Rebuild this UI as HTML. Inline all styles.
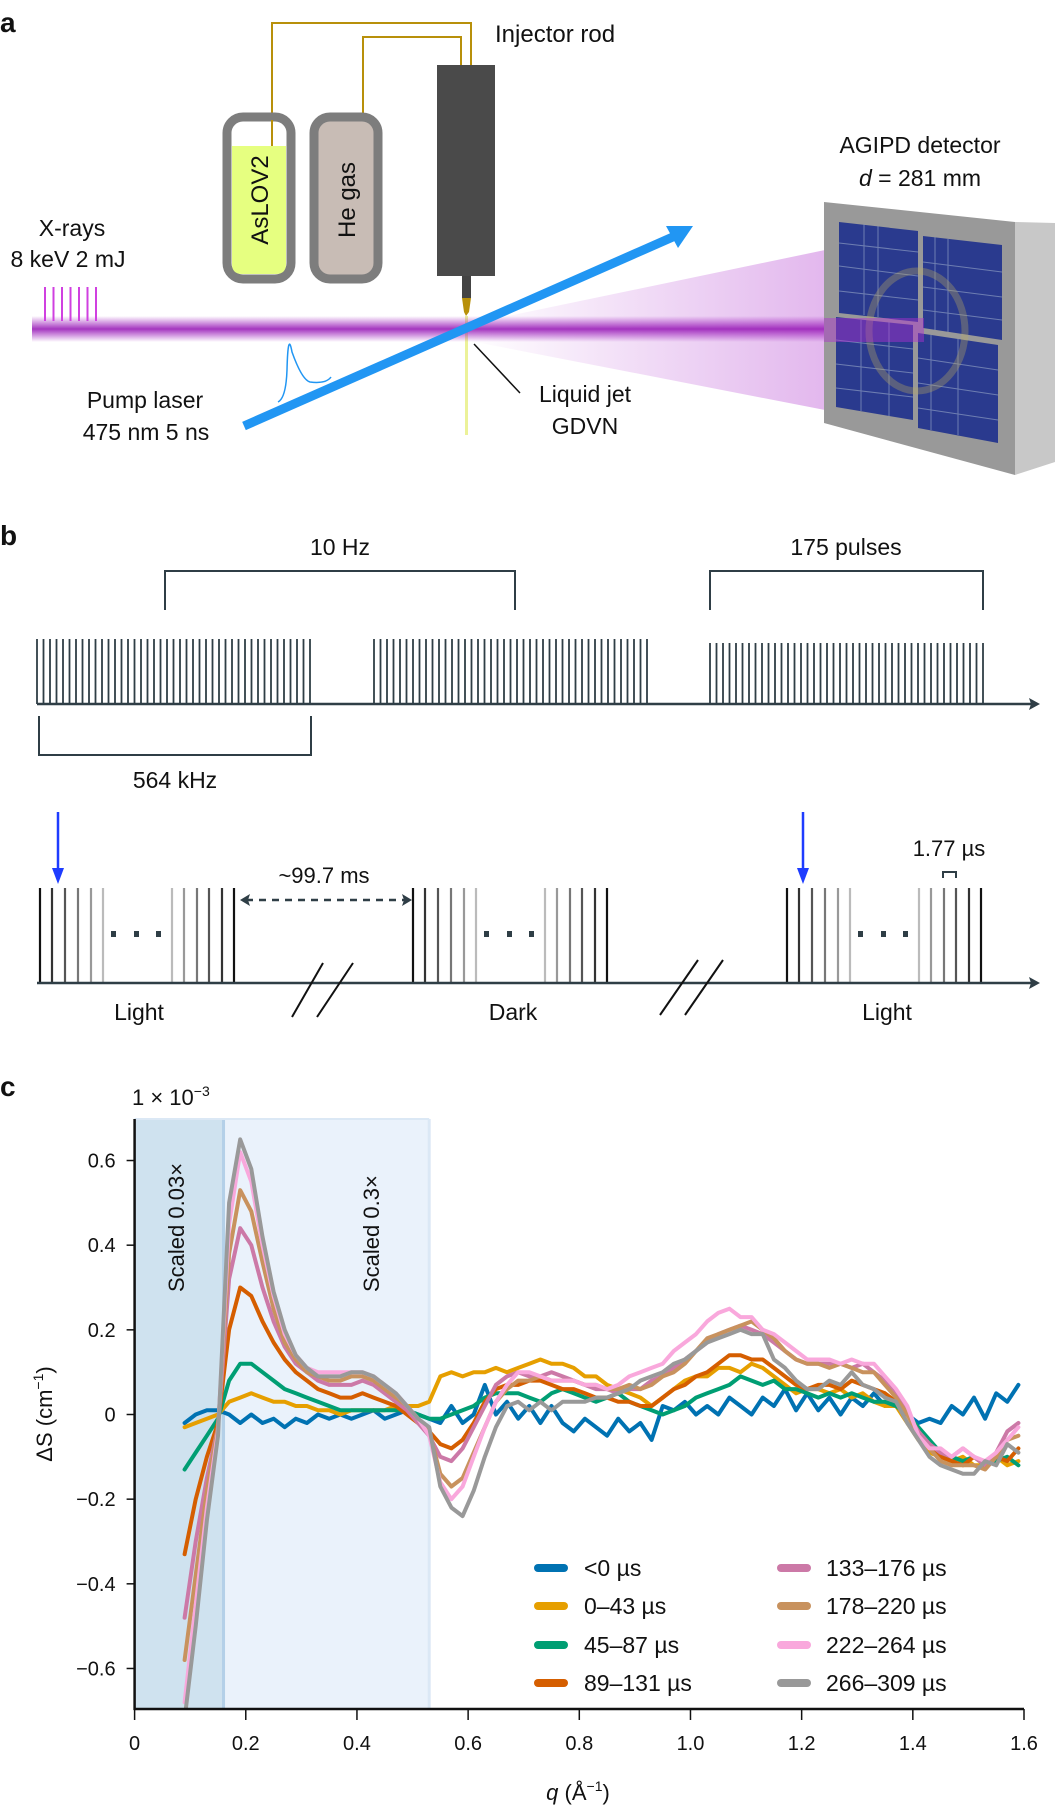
<!DOCTYPE html>
<html><head><meta charset="utf-8"><style>
html,body{margin:0;padding:0;background:#fff}
svg{display:block}
text{font-family:"Liberation Sans",sans-serif;fill:#111}
</style></head><body>
<svg id="fig" width="1055" height="1807" viewBox="0 0 1055 1807" xmlns="http://www.w3.org/2000/svg">
<defs>
<linearGradient id="beamV" x1="0" y1="0" x2="0" y2="1">
<stop offset="0" stop-color="#a020c0" stop-opacity="0"/><stop offset="0.5" stop-color="#9a20b8" stop-opacity="0.9"/><stop offset="1" stop-color="#a020c0" stop-opacity="0"/></linearGradient>
<linearGradient id="coneH" x1="0" y1="0" x2="1" y2="0">
<stop offset="0" stop-color="#c060d8" stop-opacity="0"/><stop offset="1" stop-color="#c060d8" stop-opacity="0.45"/></linearGradient>
<clipPath id="plotClip"><rect x="134.6" y="1119" width="890" height="590"/></clipPath>
</defs>

<!-- PANEL A -->
<g>
<text x="0" y="32" font-size="28" font-weight="bold">a</text>
<polyline points="272,145 272,23 471,23 471,65" fill="none" stroke="#b8900a" stroke-width="2"/>
<polyline points="363,113 363,37 461,37 461,87" fill="none" stroke="#b8900a" stroke-width="2"/>
<rect x="227" y="117" width="64" height="162" rx="16" fill="#fff" stroke="#7d7d7d" stroke-width="9"/>
<path d="M232,146 H286 V264 Q286,274 276,274 H242 Q232,274 232,264 Z" fill="#e6ff80"/>
<line x1="272" y1="120" x2="272" y2="146" stroke="#b8900a" stroke-width="2"/>
<text transform="translate(268,200) rotate(-90)" font-size="24" text-anchor="middle">AsLOV2</text>
<rect x="314" y="117" width="64" height="162" rx="16" fill="#c8bcb5" stroke="#7d7d7d" stroke-width="9"/>
<text transform="translate(355,200) rotate(-90)" font-size="24" text-anchor="middle">He gas</text>
<rect x="437" y="65" width="58" height="211" fill="#4a4a4a"/>
<rect x="462" y="276" width="9" height="22" fill="#444"/>
<path d="M462,298 H471 L469,312 L466,316 L464,312 Z" fill="#b8900a"/>
<line x1="466.5" y1="316" x2="466.5" y2="435" stroke="#e8f080" stroke-width="3" opacity="0.8"/>
<text x="495" y="42" font-size="24">Injector rod</text>
<polygon points="465,325 825,250 825,410 465,340" fill="url(#coneH)"/>
<rect x="32" y="316" width="800" height="26" fill="url(#beamV)"/>
<g stroke="#d040e0" stroke-width="2">
<line x1="45" y1="287" x2="45" y2="321"/><line x1="53.5" y1="287" x2="53.5" y2="321"/><line x1="62" y1="287" x2="62" y2="321"/><line x1="70.5" y1="287" x2="70.5" y2="321"/><line x1="79" y1="287" x2="79" y2="321"/><line x1="87.5" y1="287" x2="87.5" y2="321"/><line x1="96" y1="287" x2="96" y2="321"/></g>
<text x="72" y="236" font-size="23" text-anchor="middle">X-rays</text>
<text x="68" y="267" font-size="23" text-anchor="middle">8 keV 2 mJ</text>
<line x1="244" y1="426" x2="675" y2="236" stroke="#2196f3" stroke-width="9"/>
<polygon points="693,226 666,226 678,248" fill="#2196f3"/>
<path d="M278,402 Q286,398 287,370 Q288,330 292,352 Q302,380 310,382 Q326,384 331,377" fill="none" stroke="#2196f3" stroke-width="1.5"/>
<text x="145" y="408" font-size="23" text-anchor="middle">Pump laser</text>
<text x="146" y="440" font-size="23" text-anchor="middle">475 nm 5 ns</text>
<line x1="474" y1="344" x2="520" y2="393" stroke="#111" stroke-width="1.5"/>
<text x="585" y="402" font-size="23" text-anchor="middle">Liquid jet</text>
<text x="585" y="434" font-size="23" text-anchor="middle">GDVN</text>
<text x="920" y="153" font-size="23" text-anchor="middle">AGIPD detector</text>
<text x="920" y="186" font-size="23" text-anchor="middle"><tspan font-style="italic">d</tspan> = 281 mm</text>
<g>
<polygon points="1015,222 1055,223 1055,462 1015,475" fill="#c8c8c8"/>
<polygon points="824,202 1015,222 1015,475 824,423" fill="#999"/>
<polygon points="839,222 918,231 918,322 839,313" fill="#2a3a8e"/>
<polygon points="923,236 1002,245 1002,340 923,328" fill="#2a3a8e"/>
<polygon points="836,317 913,325 913,420 836,407" fill="#2a3a8e"/>
<polygon points="918,333 998,345 998,443 918,428" fill="#2a3a8e"/>
<g stroke="#8a9ac0" stroke-width="1" opacity="0.7">
<line x1="839" y1="243" x2="918" y2="252"/><line x1="839" y1="266" x2="918" y2="276"/><line x1="839" y1="291" x2="918" y2="300"/>
<line x1="923" y1="262" x2="1002" y2="272"/><line x1="923" y1="287" x2="1002" y2="297"/><line x1="923" y1="310" x2="1002" y2="320"/>
<line x1="836" y1="340" x2="913" y2="349"/><line x1="836" y1="364" x2="913" y2="373"/><line x1="836" y1="388" x2="913" y2="397"/>
<line x1="918" y1="358" x2="998" y2="370"/><line x1="918" y1="383" x2="998" y2="395"/><line x1="918" y1="408" x2="998" y2="420"/>
<line x1="864" y1="224" x2="864" y2="315"/><line x1="878" y1="226" x2="878" y2="317"/><line x1="935" y1="237" x2="935" y2="330"/><line x1="948" y1="239" x2="948" y2="332"/>
<line x1="861" y1="320" x2="861" y2="411"/><line x1="889" y1="322" x2="889" y2="416"/><line x1="931" y1="335" x2="931" y2="430"/><line x1="958" y1="339" x2="958" y2="435"/></g>
<ellipse cx="917" cy="331" rx="48" ry="60" fill="none" stroke="#b8a860" stroke-width="7" opacity="0.35"/>
<rect x="824" y="318" width="100" height="24" fill="#b030d0" opacity="0.45"/>
</g>
</g>

<!-- PANEL B -->
<g stroke="#2f3e46">
<text x="0" y="545" font-size="28" font-weight="bold" stroke="none">b</text>
<text x="340" y="555" font-size="23" text-anchor="middle" stroke="none">10 Hz</text>
<polyline points="165,610 165,571 515,571 515,610" fill="none" stroke-width="2"/>
<text x="846" y="555" font-size="23" text-anchor="middle" stroke="none">175 pulses</text>
<polyline points="710,610 710,571 983,571 983,610" fill="none" stroke-width="2"/>
<g id="trains" stroke-width="1.8"></g>
<line x1="37" y1="704" x2="1033" y2="704" stroke-width="2.5"/>
<polygon points="1040,704 1029,698 1031,704 1029,710" fill="#2f3e46" stroke="none"/>
<polyline points="39,716 39,755 311,755 311,716" fill="none" stroke-width="2"/>
<text x="175" y="788" font-size="23" text-anchor="middle" stroke="none">564 kHz</text>
<g stroke="#1e3cff" stroke-width="2.5">
<line x1="58" y1="812" x2="58" y2="875"/><line x1="803" y1="812" x2="803" y2="875"/></g>
<polygon points="52,868 64,868 58,884" fill="#1e3cff" stroke="none"/>
<polygon points="797,868 809,868 803,884" fill="#1e3cff" stroke="none"/>
<g id="lowtrains" stroke-width="2.2"></g>
<line x1="37" y1="983" x2="1033" y2="983" stroke-width="2.5"/>
<polygon points="1040,983 1029,977 1031,983 1029,989" fill="#2f3e46" stroke="none"/>
<line x1="246" y1="900" x2="406" y2="900" stroke-width="2.5" stroke-dasharray="7,6"/>
<polygon points="240,900 250,894 248,900 250,906" fill="#2f3e46" stroke="none"/>
<polygon points="412,900 402,894 404,900 402,906" fill="#2f3e46" stroke="none"/>
<text x="324" y="883" font-size="22" text-anchor="middle" stroke="none">~99.7 ms</text>
<g fill="#2f3e46" stroke="none">
<rect x="111" y="931" width="5" height="6"/><rect x="134" y="931" width="5" height="6"/><rect x="156" y="931" width="5" height="6"/>
<rect x="484" y="931" width="5" height="6"/><rect x="507" y="931" width="5" height="6"/><rect x="529" y="931" width="5" height="6"/>
<rect x="858" y="931" width="5" height="6"/><rect x="881" y="931" width="5" height="6"/><rect x="903" y="931" width="5" height="6"/></g>
<g stroke="#111" stroke-width="2">
<line x1="292" y1="1017" x2="323" y2="963"/><line x1="317" y1="1017" x2="353" y2="963"/>
<line x1="660" y1="1015" x2="698" y2="960"/><line x1="685" y1="1015" x2="723" y2="960"/></g>
<polyline points="943,878 943,872 956,872 956,878" fill="none" stroke-width="2"/>
<text x="949" y="856" font-size="22" text-anchor="middle" stroke="none">1.77 µs</text>
<text x="139" y="1020" font-size="23" text-anchor="middle" stroke="none">Light</text>
<text x="513" y="1020" font-size="23" text-anchor="middle" stroke="none">Dark</text>
<text x="887" y="1020" font-size="23" text-anchor="middle" stroke="none">Light</text>
</g>

<!-- PANEL C -->
<g>
<text x="0" y="1096" font-size="28" font-weight="bold">c</text>
<text x="132" y="1105" font-size="22">1 × 10<tspan font-size="14" dy="-9">−3</tspan></text>
<g id="chart"></g>
</g>
</svg>
<script>
(function(){
  var ns='http://www.w3.org/2000/svg';
  var g=document.getElementById('trains');
  var blocks=[[37,310,639],[374,647,639],[710,983,643]];
  blocks.forEach(function(b){
    for(var x=b[0];x<=b[1]+0.1;x+=(b[1]-b[0])/42){
      var l=document.createElementNS(ns,'line');
      l.setAttribute('x1',x);l.setAttribute('x2',x);l.setAttribute('y1',b[2]);l.setAttribute('y2',704);
      g.appendChild(l);
    }
  });
  var lg=document.getElementById('lowtrains');
  var shadesL=['#111','#333','#555','#777','#999','#bbb'];
  var offsA=[0,12,25,38,51,63], offsB=[0,12,25,37,50,62];
  [[40,172],[413,545],[787,919]].forEach(function(b){
    for(var i=0;i<6;i++){
      var l=document.createElementNS(ns,'line');
      var x=b[0]+offsA[i];
      l.setAttribute('x1',x);l.setAttribute('x2',x);l.setAttribute('y1',888);l.setAttribute('y2',983);
      l.setAttribute('stroke',shadesL[i]);lg.appendChild(l);
      var l2=document.createElementNS(ns,'line');
      var x2=b[1]+offsB[i];
      l2.setAttribute('x1',x2);l2.setAttribute('x2',x2);l2.setAttribute('y1',888);l2.setAttribute('y2',983);
      l2.setAttribute('stroke',shadesL[5-i]);lg.appendChild(l2);
    }
  });
})();
</script>
<script>
const qValues=[0.09,0.11,0.13,0.15,0.17,0.19,0.21,0.23,0.25,0.27,0.29,0.31,0.33,0.35,0.37,0.39,0.41,0.43,0.45,0.47,0.49,0.51,0.53,0.55,0.57,0.59,0.61,0.63,0.65,0.67,0.69,0.71,0.73,0.75,0.77,0.79,0.81,0.83,0.85,0.87,0.89,0.91,0.93,0.95,0.97,0.99,1.01,1.03,1.05,1.07,1.09,1.11,1.13,1.15,1.17,1.19,1.21,1.23,1.25,1.27,1.29,1.31,1.33,1.35,1.37,1.39,1.41,1.43,1.45,1.47,1.49,1.51,1.53,1.55,1.57,1.59];
const seriesLabels=['<0 µs','0–43 µs','45–87 µs','89–131 µs','133–176 µs','178–220 µs','222–264 µs','266–309 µs'];
const seriesColors=['#0072b2','#e69f00','#009e73','#d55e00','#cc79a7','#c8925e','#f9a8dc','#999999'];
const sNeg=[-0.02,0.0,0.01,0.01,0.0,-0.02,0.0,-0.02,-0.01,-0.03,-0.01,-0.02,0.0,-0.01,0.0,-0.01,0.0,0.01,-0.01,0.0,0.01,0.0,-0.01,-0.02,0.02,-0.02,0.0,0.07,0.0,0.03,-0.01,0.02,-0.02,0.02,-0.02,-0.04,-0.01,-0.03,-0.05,-0.01,-0.04,-0.02,-0.06,0.02,0.01,0.03,0.0,0.02,0.0,0.04,0.02,0.0,0.04,0.02,0.06,0.01,0.05,0.01,0.04,0.0,0.04,0.02,0.05,0.02,0.03,0.0,-0.02,-0.01,-0.02,0.02,0.0,0.04,-0.01,0.05,0.03,0.07];
const s0_43=[-0.03,-0.02,-0.01,0.0,0.03,0.04,0.05,0.04,0.03,0.03,0.02,0.02,0.01,0.01,0.0,0.01,0.01,0.01,0.01,0.02,0.02,0.02,0.03,0.09,0.1,0.09,0.1,0.1,0.11,0.1,0.11,0.12,0.13,0.12,0.12,0.11,0.09,0.09,0.07,0.06,0.05,0.04,0.02,0.04,0.06,0.08,0.09,0.09,0.11,0.11,0.1,0.12,0.11,0.09,0.07,0.05,0.06,0.06,0.05,0.06,0.04,0.05,0.03,0.02,0.02,-0.02,-0.06,-0.09,-0.1,-0.11,-0.1,-0.12,-0.12,-0.1,-0.12,-0.11];
const s45_87=[-0.13,-0.09,-0.05,-0.01,0.08,0.12,0.12,0.1,0.08,0.06,0.05,0.04,0.03,0.02,0.01,0.01,0.01,0.01,0.01,0.01,0.01,0.0,-0.01,-0.01,0.0,0.01,0.02,0.04,0.05,0.05,0.05,0.04,0.03,0.05,0.06,0.05,0.04,0.03,0.04,0.05,0.03,0.02,0.01,0.0,0.01,0.02,0.04,0.05,0.06,0.07,0.09,0.08,0.07,0.08,0.06,0.06,0.05,0.04,0.05,0.04,0.05,0.04,0.03,0.03,0.02,0.0,-0.03,-0.06,-0.09,-0.1,-0.11,-0.1,-0.12,-0.11,-0.1,-0.12];
const s89_131=[-0.33,-0.2,-0.1,-0.02,0.2,0.3,0.28,0.22,0.17,0.13,0.1,0.08,0.06,0.05,0.04,0.04,0.05,0.04,0.03,0.02,0.0,-0.02,-0.04,-0.07,-0.08,-0.06,-0.02,0.03,0.06,0.07,0.07,0.08,0.08,0.07,0.06,0.06,0.05,0.04,0.04,0.03,0.03,0.02,0.02,0.04,0.06,0.07,0.09,0.1,0.12,0.14,0.14,0.13,0.13,0.11,0.09,0.07,0.06,0.07,0.07,0.06,0.08,0.07,0.06,0.05,0.03,0.0,-0.04,-0.08,-0.1,-0.11,-0.12,-0.1,-0.12,-0.1,-0.11,-0.08];
const s133_176=[-0.48,-0.3,-0.15,-0.03,0.32,0.44,0.4,0.3,0.22,0.16,0.12,0.1,0.08,0.07,0.07,0.07,0.08,0.07,0.05,0.03,0.01,-0.02,-0.05,-0.1,-0.11,-0.08,-0.03,0.02,0.07,0.09,0.1,0.09,0.09,0.1,0.09,0.08,0.07,0.06,0.06,0.05,0.06,0.06,0.08,0.09,0.11,0.13,0.15,0.17,0.19,0.2,0.21,0.2,0.19,0.17,0.15,0.13,0.12,0.12,0.12,0.12,0.11,0.12,0.1,0.08,0.05,0.0,-0.04,-0.07,-0.09,-0.1,-0.08,-0.1,-0.12,-0.09,-0.04,-0.02];
const s178_220=[-0.58,-0.38,-0.18,-0.03,0.38,0.53,0.48,0.36,0.25,0.17,0.13,0.1,0.09,0.08,0.08,0.09,0.09,0.08,0.06,0.04,0.02,-0.01,-0.04,-0.14,-0.17,-0.15,-0.09,-0.03,0.03,0.06,0.08,0.08,0.09,0.08,0.08,0.08,0.07,0.07,0.06,0.06,0.07,0.06,0.07,0.09,0.1,0.12,0.15,0.18,0.19,0.2,0.21,0.22,0.2,0.18,0.15,0.13,0.12,0.12,0.11,0.12,0.11,0.1,0.1,0.07,0.04,0.0,-0.05,-0.08,-0.11,-0.12,-0.12,-0.12,-0.13,-0.1,-0.06,-0.05];
const s222_264=[-0.68,-0.45,-0.22,-0.04,0.45,0.62,0.55,0.4,0.28,0.19,0.14,0.11,0.1,0.1,0.1,0.1,0.1,0.09,0.07,0.05,0.02,-0.01,-0.05,-0.16,-0.2,-0.17,-0.1,-0.03,0.03,0.07,0.1,0.1,0.09,0.08,0.08,0.08,0.07,0.07,0.06,0.07,0.09,0.1,0.11,0.12,0.15,0.17,0.19,0.22,0.24,0.25,0.23,0.23,0.2,0.19,0.17,0.15,0.13,0.13,0.13,0.12,0.13,0.12,0.12,0.09,0.06,0.02,-0.05,-0.08,-0.08,-0.1,-0.08,-0.1,-0.11,-0.09,-0.06,-0.03];
const s266_309=[-0.72,-0.5,-0.25,-0.05,0.5,0.65,0.58,0.42,0.29,0.2,0.14,0.11,0.09,0.09,0.09,0.1,0.1,0.09,0.07,0.05,0.02,-0.01,-0.03,-0.17,-0.22,-0.24,-0.18,-0.1,-0.03,0.02,0.03,0.01,0.03,0.01,0.03,0.03,0.03,0.04,0.04,0.05,0.06,0.08,0.09,0.1,0.12,0.13,0.15,0.17,0.18,0.19,0.2,0.19,0.19,0.13,0.11,0.08,0.06,0.06,0.08,0.07,0.1,0.07,0.06,0.04,0.03,-0.02,-0.06,-0.1,-0.12,-0.13,-0.14,-0.14,-0.11,-0.12,-0.07,-0.09];
const xTicks=[0,0.2,0.4,0.6,0.8,1.0,1.2,1.4,1.6];
const xTickLabels=['0','0.2','0.4','0.6','0.8','1.0','1.2','1.4','1.6'];
const yTicks=[0.6,0.4,0.2,0,-0.2,-0.4,-0.6];
const yTickLabels=['0.6','0.4','0.2','0','−0.2','−0.4','−0.6'];
const regionBounds=[0,0.16,0.53];

const NS='http://www.w3.org/2000/svg';
const X0=134.6, X1=1024, Y0=1414.5, YPER=423.3, YTOP=1119, YBOT=1709;
function xs(q){return X0+(q/1.6)*(X1-X0);}
function ys(v){return Y0-v*YPER;}
function mk(tag,attrs,parent){const e=document.createElementNS(NS,tag);for(const k in attrs)e.setAttribute(k,attrs[k]);parent.appendChild(e);return e;}
const chart=document.getElementById('chart');

let r1=mk('rect',{x:xs(regionBounds[0]),y:YTOP,width:xs(regionBounds[1])-xs(regionBounds[0]),height:YBOT-YTOP,fill:'#cfe2ef'},chart);


let r2=mk('rect',{x:xs(regionBounds[1]),y:YTOP,width:xs(regionBounds[2])-xs(regionBounds[1]),height:YBOT-YTOP,fill:'#eaf2fb'},chart);


mk('line',{x1:xs(regionBounds[1]),x2:xs(regionBounds[1]),y1:YTOP,y2:YBOT,stroke:'#b4d0e8','stroke-width':3},chart);
mk('line',{x1:xs(regionBounds[2]),x2:xs(regionBounds[2]),y1:YTOP,y2:YBOT,stroke:'#dbe8f5','stroke-width':3},chart);
mk('line',{x1:X0,x2:xs(regionBounds[2]),y1:YTOP,y2:YTOP,stroke:'#dbe8f5','stroke-width':2},chart);

let t1=mk('text',{transform:'translate(184,1292) rotate(-90)','font-size':22},chart);
t1.textContent='Scaled 0.03×';


let t2=mk('text',{transform:'translate(379,1292) rotate(-90)','font-size':22},chart);
t2.textContent='Scaled 0.3×';



const allSeries=[sNeg,s0_43,s45_87,s89_131,s133_176,s178_220,s222_264,s266_309];
const lineG=mk('g',{'clip-path':'url(#plotClip)'},chart);
allSeries.forEach(function(s,i){
  let d='';
  const n=Math.min(s.length,qValues.length);
  for(let k=0;k<n;k++){d+=(k?'L':'M')+xs(qValues[k]).toFixed(1)+','+ys(s[k]).toFixed(1);}
  let p=mk('path',{d:d,fill:'none',stroke:seriesColors[i],'stroke-width':4,'stroke-linejoin':'round','stroke-linecap':'round'},lineG);
  
  
});

let ya=mk('line',{x1:X0,x2:X0,y1:YTOP,y2:YBOT+1,stroke:'#111','stroke-width':2.5},chart);


let xa=mk('line',{x1:X0-1,x2:X1,y1:YBOT,y2:YBOT,stroke:'#111','stroke-width':2.5},chart);


yTicks.forEach(function(v,i){
  mk('line',{x1:X0-8,x2:X0,y1:ys(v),y2:ys(v),stroke:'#111','stroke-width':1.5},chart);
  let t=mk('text',{x:X0-19,y:ys(v)+7,'font-size':20,'text-anchor':'end'},chart);
  t.textContent=yTickLabels[i];
  
  
});
xTicks.forEach(function(v,i){
  mk('line',{x1:xs(v),x2:xs(v),y1:YBOT,y2:YBOT+11,stroke:'#111','stroke-width':1.5},chart);
  let t=mk('text',{x:xs(v),y:1750,'font-size':20,'text-anchor':'middle'},chart);
  t.textContent=xTickLabels[i];
  
  
});
let xt=mk('text',{x:578,y:1800,'font-size':22,'text-anchor':'middle'},chart);
xt.innerHTML='<tspan font-style="italic">q</tspan> (Å<tspan font-size="14" dy="-9">−1</tspan><tspan dy="9">)</tspan>';


let yt=mk('text',{transform:'translate(52,1414) rotate(-90)','font-size':22,'text-anchor':'middle'},chart);
yt.innerHTML='ΔS (cm<tspan font-size="14" dy="-9">−1</tspan><tspan dy="9">)</tspan>';



const legX=[538,781], legTX=[584,826], legY=[1568,1606,1645,1683];
seriesLabels.forEach(function(lab,i){
  const col=Math.floor(i/4), row=i%4;
  let g=mk('g',{},chart);
  
  
  mk('line',{x1:legX[col],x2:legX[col]+26,y1:legY[row],y2:legY[row],stroke:seriesColors[i],'stroke-width':8,'stroke-linecap':'round'},g);
  let t=mk('text',{x:legTX[col],y:legY[row]+8,'font-size':23},g);
  t.textContent=lab;
});
</script>
</body></html>
